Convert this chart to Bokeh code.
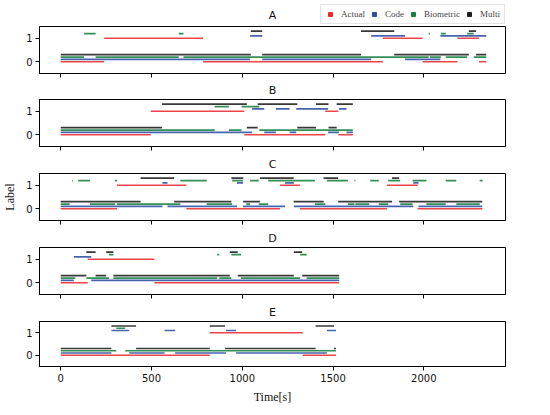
from bokeh.plotting import figure
from bokeh.layouts import column
from bokeh.models import Range1d, FixedTicker, Legend, LegendItem, Label
from bokeh.embed import file_html
from bokeh.resources import INLINE

subplot_titles = ["A", "B", "C", "D", "E"]
series_names = ["Actual", "Code", "Biometric", "Multi"]
x_ticks = [0, 500, 1000, 1500, 2000]
y_ticks = [0, 1]

# segments: (start [s], end [s], label)
A_actual = [(0, 239, 0), (239, 784, 1), (784, 1774, 0), (1774, 1993, 1), (1993, 2185, 0), (2185, 2304, 1), (2304, 2344, 0)]
A_code = [(0, 1043, 0), (1043, 1110, 1), (1110, 1710, 0), (1710, 1897, 1), (1897, 2091, 0), (2091, 2344, 1)]
A_bio = [(0, 129, 0), (129, 192, 1), (192, 650, 0), (650, 676, 1), (676, 2027, 0), (2027, 2034, 1), (2034, 2094, 0),
         (2094, 2121, 1), (2121, 2239, 0), (2239, 2275, 1), (2275, 2344, 0)]
A_multi = [(0, 1047, 0), (1047, 1110, 1), (1110, 1654, 0), (1654, 1837, 1), (1837, 2248, 0), (2248, 2288, 1), (2288, 2344, 0)]

B_actual = [(0, 496, 0), (496, 1011, 1), (1011, 1457, 0), (1457, 1529, 1), (1529, 1609, 0)]
B_code = [(0, 1054, 0), (1054, 1121, 1), (1121, 1185, 0), (1185, 1261, 1), (1261, 1297, 0), (1297, 1473, 1),
          (1473, 1533, 0), (1533, 1574, 1), (1574, 1609, 0)]
B_bio = [(0, 848, 0), (848, 926, 1), (926, 996, 0), (996, 1094, 1), (1094, 1609, 0)]
B_multi = [(0, 558, 0), (558, 1025, 1), (1025, 1085, 0), (1085, 1303, 1), (1303, 1406, 0), (1406, 1475, 1),
           (1475, 1520, 0), (1520, 1609, 1)]

C_actual = [(0, 310, 0), (310, 692, 1), (692, 1208, 0), (1208, 1317, 1), (1317, 1797, 0), (1797, 1966, 1), (1966, 2322, 0)]
C_code = [(0, 560, 0), (560, 588, 1), (588, 971, 0), (971, 1004, 1), (1004, 1236, 0), (1236, 1284, 1), (1284, 1942, 0),
          (1942, 1971, 1), (1971, 2322, 0)]
C_bio = [(0, 49, 0), (62, 66, 1), (96, 161, 1), (161, 299, 0), (299, 310, 1), (310, 659, 0), (659, 804, 1), (804, 944, 0),
         (944, 1004, 1), (1022, 1043, 0), (1043, 1091, 1), (1091, 1143, 0), (1143, 1400, 1), (1400, 1457, 0),
         (1466, 1582, 1), (1582, 1618, 0), (1618, 1623, 1), (1623, 1699, 0), (1705, 1752, 1), (1752, 1804, 0),
         (1804, 1870, 1), (1870, 1938, 0), (1938, 2014, 1), (2014, 2121, 0), (2121, 2179, 1), (2179, 2308, 0),
         (2308, 2324, 1)]
C_multi = [(0, 440, 0), (440, 625, 1), (625, 940, 0), (940, 1005, 1), (1005, 1097, 0), (1097, 1283, 1), (1283, 1448, 0),
           (1448, 1528, 1), (1528, 1825, 0), (1825, 1864, 1), (1864, 2322, 0)]

D_actual = [(0, 149, 0), (149, 516, 1), (516, 1534, 0)]
D_code = [(0, 72, 0), (72, 168, 1), (168, 1534, 0)]
D_bio = [(0, 80, 0), (141, 266, 0), (266, 290, 1), (290, 862, 0), (862, 873, 1), (873, 940, 0), (940, 993, 1),
         (993, 1319, 0), (1319, 1355, 1), (1355, 1534, 0)]
D_multi = [(0, 141, 0), (141, 192, 1), (192, 250, 0), (250, 290, 1), (290, 931, 0), (931, 975, 1), (975, 1284, 0),
           (1284, 1330, 1), (1330, 1534, 0)]

E_actual = [(0, 821, 0), (821, 1333, 1), (1333, 1516, 0)]
E_code = [(0, 279, 0), (279, 377, 1), (377, 572, 0), (572, 630, 1), (630, 910, 0), (910, 966, 1), (966, 1466, 0),
          (1466, 1516, 1)]
E_bio = [(0, 306, 0), (306, 355, 1), (355, 1516, 0)]
E_multi = [(0, 279, 0), (279, 415, 1), (415, 821, 0), (821, 905, 1), (905, 1404, 0), (1404, 1505, 1), (1505, 1516, 0)]

panels = {
    "A": [A_actual, A_code, A_bio, A_multi],
    "B": [B_actual, B_code, B_bio, B_multi],
    "C": [C_actual, C_code, C_bio, C_multi],
    "D": [D_actual, D_code, D_bio, D_multi],
    "E": [E_actual, E_code, E_bio, E_multi],
}

colors = ["#ec2a2f", "#2c4ea3", "#17803f", "#1e1e1e"]
offsets = [0.0, 0.1, 0.2, 0.3]

W = 534
BL, BR = 33, 29
FRAME_W = W - BL - BR
HEAD_H = 25

# header strip: holds the legend and the first panel's title
head = figure(width=W, height=HEAD_H, x_range=Range1d(0, FRAME_W), y_range=Range1d(0, HEAD_H),
              output_backend="svg", toolbar_location=None, min_border=0,
              x_axis_location=None, y_axis_location=None)
head.xgrid.visible = False
head.ygrid.visible = False
head.outline_line_color = None
items = []
for sname, col in zip(series_names, colors):
    r = head.scatter(x=[float("nan")], y=[float("nan")], marker="square", size=5,
                     fill_color=col, line_color=col)
    items.append(LegendItem(label=sname, renderers=[r]))
legend = Legend(items=items, orientation="horizontal", location=(281, 1),
                label_text_font="Liberation Serif", label_text_font_size="9px",
                glyph_width=10, glyph_height=10, label_standoff=6, spacing=4,
                padding=4, margin=0, border_line_color="#cccccc", border_line_width=1,
                background_fill_color="white", background_fill_alpha=1,
                label_height=10, label_width=10)
head.add_layout(legend)
head.add_layout(Label(x=FRAME_W / 2, y=HEAD_H - 15, text=subplot_titles[0],
                      text_align="center", text_baseline="middle",
                      text_font="DejaVu Sans", text_font_size="11px", text_color="#111111"))

x_range = Range1d(-117, 2450)
figs = [head]
for i, name in enumerate(subplot_titles):
    first = (i == 0)
    last = (i == len(subplot_titles) - 1)
    top = 1 if first else 21
    bottom = 38 if last else (5 if first else 6)
    h = top + 47 + bottom
    p = figure(width=W, height=h, x_range=x_range, y_range=Range1d(-0.5, 1.5),
               output_backend="svg", toolbar_location=None, title=None if first else name)
    p.min_border_left = BL
    p.min_border_right = BR
    p.min_border_top = top
    p.min_border_bottom = bottom
    if not first:
        p.title.align = "center"
        p.title.text_font = "DejaVu Sans"
        p.title.text_font_size = "11px"
        p.title.text_font_style = "normal"
        p.title.text_color = "#111111"
        p.title.text_line_height = 1.0
        p.title.standoff = 5
    p.xgrid.visible = False
    p.ygrid.visible = False
    p.outline_line_color = "black"
    p.outline_line_alpha = 1
    p.outline_line_width = 1
    for ax in (p.xaxis[0], p.yaxis[0]):
        ax.axis_line_color = "black"
        ax.major_tick_line_color = "black"
        ax.major_tick_out = 4
        ax.major_tick_in = 0
        ax.minor_tick_line_color = None
        ax.major_label_text_font = "DejaVu Sans"
        ax.major_label_text_font_size = "10px"
        ax.major_label_text_color = "#111111"
        ax.major_label_standoff = 3
        ax.axis_label_text_font = "Liberation Serif"
        ax.axis_label_text_font_size = "12px"
        ax.axis_label_text_font_style = "normal"
        ax.axis_label_text_color = "#111111"
    p.xaxis.ticker = FixedTicker(ticks=x_ticks)
    p.yaxis.ticker = FixedTicker(ticks=y_ticks)
    if last:
        p.xaxis.axis_label = "Time[s]"
        p.xaxis.major_label_standoff = 3
        p.xaxis.axis_label_standoff = 5
    else:
        p.xaxis.major_label_overrides = {t: "" for t in x_ticks}
        p.xaxis.major_label_standoff = 0
    if name == "C":
        p.yaxis.axis_label = "Label"
        p.yaxis.axis_label_standoff = 6

    for segs, off, col in zip(panels[name], offsets, colors):
        x0 = [s for s, e, l in segs]
        x1 = [e for s, e, l in segs]
        yy = [l + off for s, e, l in segs]
        p.segment(x0=x0, y0=yy, x1=x1, y1=yy, line_color=col, line_width=1.7, line_alpha=0.88)
    figs.append(p)

layout = column(*figs)
open("out.html", "w").write(file_html(layout, INLINE))
